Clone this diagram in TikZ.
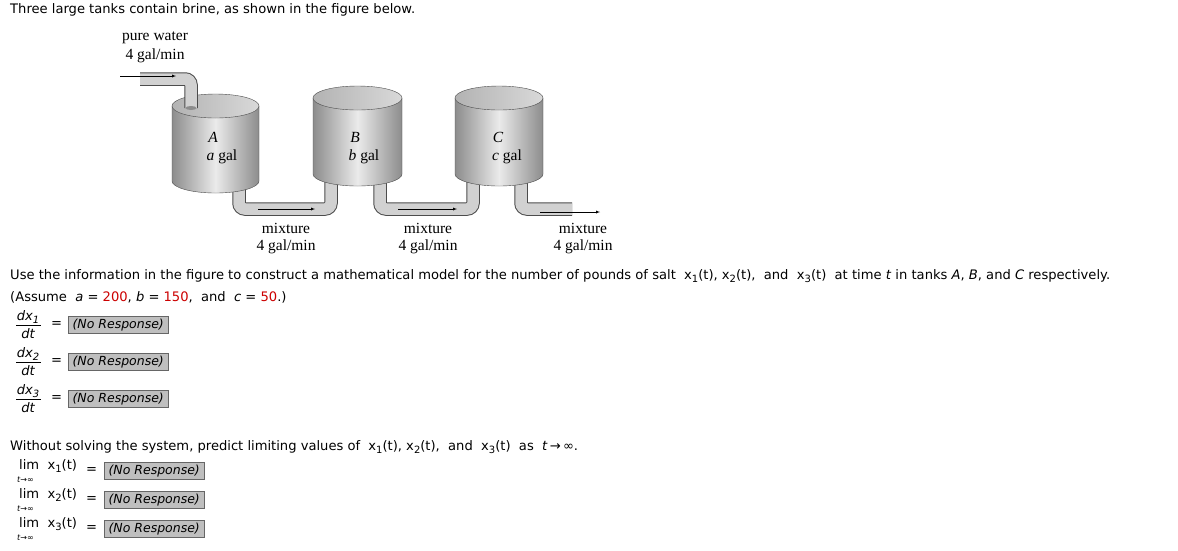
\documentclass[tikz,border=0pt]{standalone}
\usepackage{fontspec}
\setmainfont{DejaVu Sans}
\newfontfamily\serif{Liberation Serif}
\newcommand\sbx[1]{\raisebox{-2.5pt}{\fontsize{10}{10}\selectfont #1}}
\begin{document}
\begin{tikzpicture}[x=1pt,y=-1pt,
  txt/.style={anchor=west,inner sep=0pt,font=\fontsize{13.1}{15}\selectfont},
  lab/.style={inner sep=0pt,font=\serif\fontsize{15.5}{17}\selectfont},
  resp/.style={draw=black!60,fill=black!25,anchor=west,inner sep=1.5pt,minimum height=17pt,minimum width=100pt,font=\fontsize{12.5}{13}\selectfont\itshape},
  flow/.style={-latex,thin},
  pipeout/.style={line width=13.5pt,draw=black!70,rounded corners=6pt},
  pipein/.style={line width=11.5pt,draw=black!18,rounded corners=6pt}]
\useasboundingbox (0,0) rectangle (1178,550);
\fill[white] (0,0) rectangle (1178,550);
\newcommand\pipe[1]{\draw[pipeout] #1; \draw[pipein] #1;}
\newcommand\tank[4]{%
 \path[draw=black!70,left color=black!45,right color=black!45,middle color=black!8,shading angle=90]
   (#1,#3) -- (#1,#4) arc[start angle=180,end angle=0,x radius={(#2-#1)/2},y radius=12] -- (#2,#3) -- cycle;
 \path[draw=black!70,left color=black!30,right color=black!15] ({(#1+#2)/2},#3) ellipse[x radius={(#2-#1)/2},y radius=12];}
\pipe{(239,185) -- (239,209) -- (331,209) -- (331,178)}
\pipe{(380,178) -- (380,209) -- (473,209) -- (473,178)}
\pipe{(521,178) -- (521,209) -- (572,209)}
\tank{172}{259}{106}{181}
\tank{313}{402}{98}{174}
\tank{455}{543}{98}{174}
\pipe{(140,79) -- (191,79) -- (191,108)}
\fill[black!45] (191,108) ellipse[x radius=5.5,y radius=2];
\coordinate (i1) at (120,76); \coordinate (i2) at (176,76);
\draw[flow] (i1) -- (i2);
\coordinate (a1) at (258,209); \coordinate (a2) at (315,209);
\draw[flow] (a1) -- (a2);
\coordinate (b1) at (398,209); \coordinate (b2) at (457,209);
\draw[flow] (b1) -- (b2);
\coordinate (c1) at (540,212); \coordinate (c2) at (600,212);
\draw[flow] (c1) -- (c2);
\node[lab] (pw) at (155,38) {pure water};
\node[lab] (pw2) at (155,56) {4 gal/min};
\node[lab] (tA) at (213,137) {\itshape A};
\node[lab] (tA2) at (222,157) {\itshape a\upshape{} gal};
\node[lab] (tB) at (355,137) {\itshape B};
\node[lab] (tB2) at (364,157) {\itshape b\upshape{} gal};
\node[lab] (tC) at (498,137) {\itshape C};
\node[lab] (tC2) at (507,157) {\itshape c\upshape{} gal};
\node[lab] (m1) at (286,228) {mixture};
\node[lab] (m1b) at (286,247) {4 gal/min};
\node[lab] (m2) at (428,228) {mixture};
\node[lab] (m2b) at (428,247) {4 gal/min};
\node[lab] (m3) at (583,228) {mixture};
\node[lab] (m3b) at (583,247) {4 gal/min};
\node[txt] (t0) at (10,10) {Three large tanks contain brine, as shown in the figure below.};
\node[txt] (t1) at (10,276) {Use the information in the figure to construct a mathematical model for the number of pounds of salt\ \ x\sbx{1}(t), x\sbx{2}(t),\ \ and\ \ x\sbx{3}(t)\ \ at time \textit{t} in tanks \textit{A}, \textit{B}, and \textit{C} respectively.};
\node[txt] (t2) at (10,297) {(Assume\ \ \textit{a}\ =\ \textcolor{red!80!black}{200}, \textit{b}\ =\ \textcolor{red!80!black}{150},\ \ and\ \ \textit{c}\ =\ \textcolor{red!80!black}{50}.)};
\foreach \i/\y in {1/325,2/362,3/399}{
  \node[txt,anchor=center] (n\i) at (28,\y-8) {\itshape dx\sbx{\i}};
  \node[txt,anchor=center] (d\i) at (28,\y+9) {\itshape dt};
  \draw[line width=0.6pt] (16,\y) -- (41,\y);
  \node[txt] (e\i) at (51,\y) {=};
  \node[resp] (r\i) at (68,\y) {(No Response)};
}
\node[txt] (t3) at (10,447) {Without solving the system, predict limiting values of\ \ x\sbx{1}(t), x\sbx{2}(t),\ \ and\ \ x\sbx{3}(t)\ \ as\ \ \textit{t}\,→\,∞.};
\foreach \i/\y in {1/471,2/500,3/529}{
  \node[txt] (l\i) at (19,\y-5) {lim\ \ x\sbx{\i}(t)};
  \node[txt,font=\fontsize{8}{8}\selectfont] (s\i) at (17,\y+9) {\itshape t\upshape→∞};
  \node[txt] (q\i) at (86,\y) {=};
  \node[resp] (p\i) at (104,\y) {(No Response)};
}
\end{tikzpicture}
\end{document}
